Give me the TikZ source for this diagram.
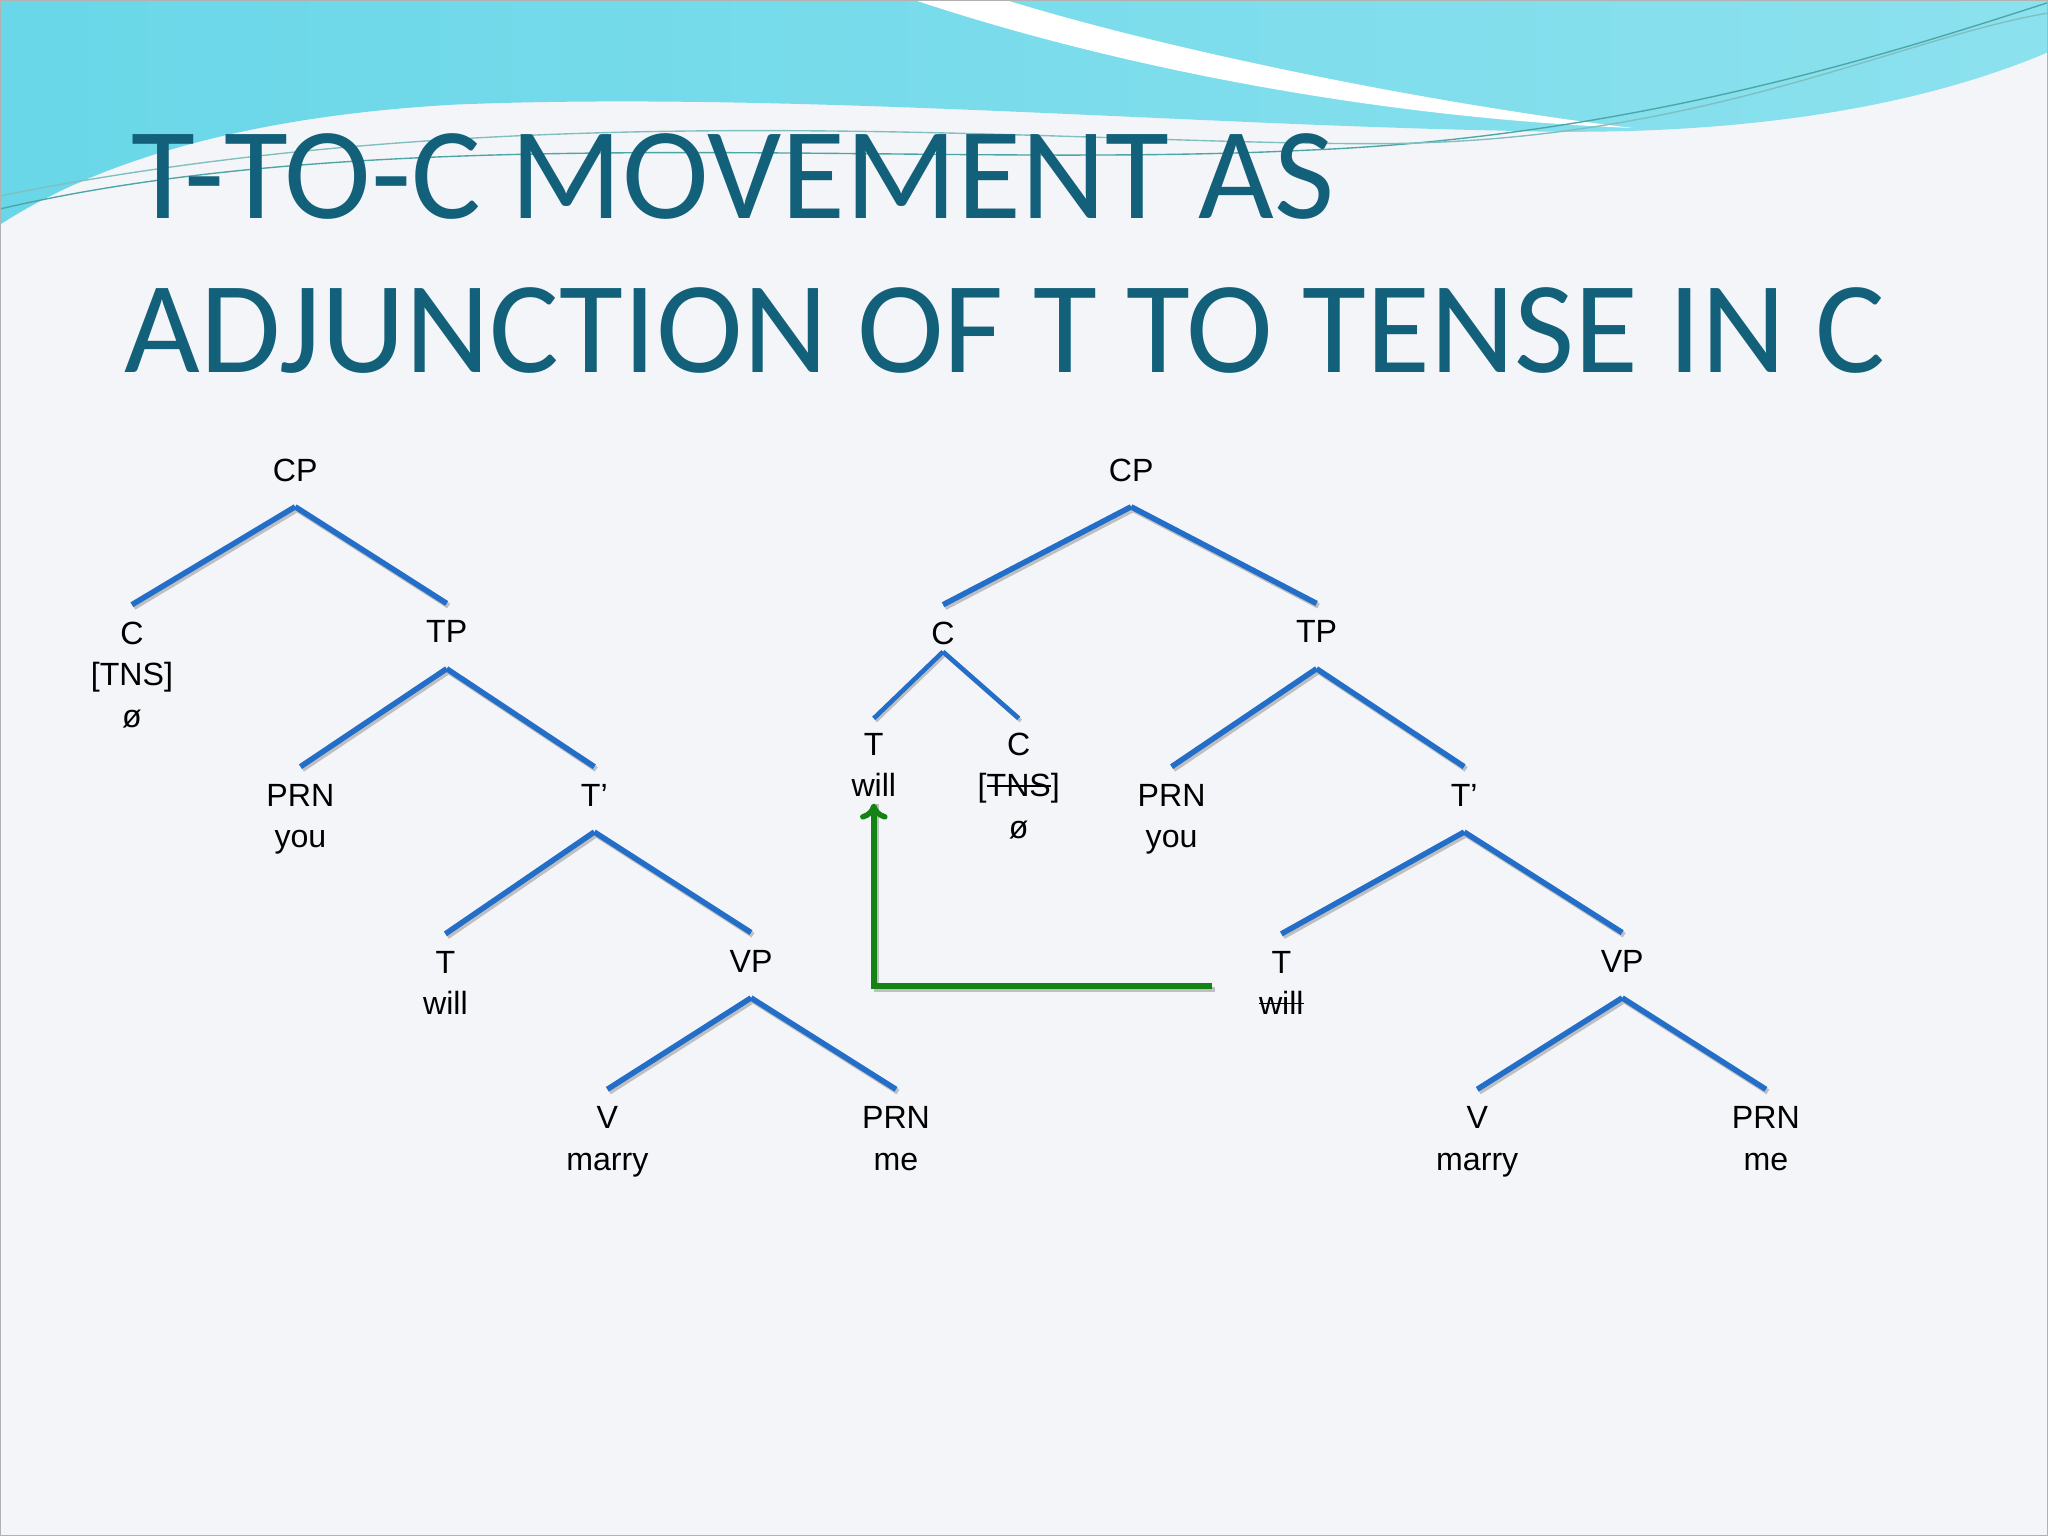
\documentclass[tikz,border=0pt]{standalone}
\usepackage{fontspec}
\setmainfont{Liberation Sans}
\newfontfamily\titlefont{Carlito}
\usetikzlibrary{arrows.meta}
\newsavebox{\strkbox}
\newcommand{\strk}[1]{\sbox{\strkbox}{#1}\rlap{\rule[0.32em]{\wd\strkbox}{0.8pt}}\usebox{\strkbox}}
\definecolor{bg}{RGB}{244,245,248}
\definecolor{titlec}{RGB}{18,96,122}
\definecolor{treeblue}{RGB}{35,110,200}
\definecolor{arrgreen}{RGB}{20,130,20}
\tikzset{
  lab/.style={anchor=north,inner sep=0pt,align=center,font=\fontsize{14}{18}\selectfont},
  br/.style={draw=treeblue,line width=2.4pt},
}
\newcommand{\tedge}[2]{\draw[gray!50,line width=2.4pt] ([xshift=0.03cm,yshift=-0.78cm]#1.north) -- ([xshift=0.03cm,yshift=0.22cm]#2.north);
\draw[br] ([yshift=-0.74cm]#1.north) -- ([yshift=0.26cm]#2.north);}
\begin{document}
\begin{tikzpicture}[x=0.02cm,y=-0.02cm]
\useasboundingbox (0,0) rectangle (1568,1176);
\fill[bg] (0,0) rectangle (1568,1176);
% banner
\shade[left color={rgb,255:red,105;green,215;blue,232},middle color={rgb,255:red,110;green,180;blue,215},right color={rgb,255:red,140;green,225;blue,238}]
 (0,0) -- (1568,0) -- (1568,40) .. controls (1450,90) and (1300,105) .. (1150,100)
 .. controls (900,95) and (600,70) .. (350,80) .. controls (200,88) and (80,120) .. (0,172) -- cycle;
\fill[white] (700,0) .. controls (850,50) and (1050,90) .. (1250,98) .. controls (1100,80) and (900,40) .. (770,0) -- cycle;
\draw[teal!70,line width=0.6pt] (0,160) .. controls (300,90) and (700,130) .. (1000,115) .. controls (1250,105) and (1450,40) .. (1568,2);
\draw[teal!50,line width=0.6pt] (0,150) .. controls (400,70) and (800,110) .. (1050,110) .. controls (1300,110) and (1450,30) .. (1568,10);
\draw[gray!60,line width=0.8pt] (0,0) rectangle (1568,1176);
% title
\node[anchor=base west,inner sep=0pt,text=titlec,font=\titlefont\fontsize{57}{60}\selectfont] (t1) at (100,167) {T-TO-C MOVEMENT AS};
\node[anchor=base west,inner sep=0pt,text=titlec,font=\titlefont\fontsize{57}{60}\selectfont] (t2) at (95,285) {ADJUNCTION OF T TO TENSE IN C};
% left tree
\node[lab] (lcp) at (226,351) {CP};
\node[lab] (lc) at (101,476) {C\\{[}TNS{]}\\ø};
\node[lab] (ltp) at (342,475) {TP};
\node[lab] (lprn) at (230,600) {PRN\\you};
\node[lab] (ltb) at (455,600) {T’};
\node[lab] (lt) at (341,728) {T\\will};
\node[lab] (lvp) at (575,727) {VP};
\node[lab] (lv) at (465,847) {V\\marry};
\node[lab] (lme) at (686,847) {PRN\\me};
\tedge{lcp}{lc}\tedge{lcp}{ltp}\tedge{ltp}{lprn}\tedge{ltp}{ltb}
\tedge{ltb}{lt}\tedge{ltb}{lvp}\tedge{lvp}{lv}\tedge{lvp}{lme}
% right tree
\node[lab] (rcp) at (866,351) {CP};
\node[lab] (rc) at (722,476) {C};
\node[lab] (rtp) at (1008,475) {TP};
\node[lab] (rtw) at (669,561) {T\\will};
\node[lab] (rcc) at (780,561) {C\\{[}\strk{TNS}{]}\\ø};
\node[lab] (rprn) at (897,600) {PRN\\you};
\node[lab] (rtb) at (1121,600) {T’};
\node[lab] (rt) at (981,728) {T\\\strk{will}};
\node[lab] (rvp) at (1242,727) {VP};
\node[lab] (rv) at (1131,847) {V\\marry};
\node[lab] (rme) at (1352,847) {PRN\\me};
\tedge{rcp}{rc}\tedge{rcp}{rtp}\tedge{rtp}{rprn}\tedge{rtp}{rtb}
\tedge{rtb}{rt}\tedge{rtb}{rvp}\tedge{rvp}{rv}\tedge{rvp}{rme}
\draw[gray!50,line width=1.6pt] ([xshift=0.03cm,yshift=-0.5cm]rc.north) -- ([xshift=0.03cm,yshift=0.18cm]rtw.north);
\draw[gray!50,line width=1.6pt] ([xshift=0.03cm,yshift=-0.5cm]rc.north) -- ([xshift=0.03cm,yshift=0.18cm]rcc.north);
\draw[treeblue,line width=2pt] ([yshift=-0.46cm]rc.north) -- ([yshift=0.22cm]rtw.north);
\draw[treeblue,line width=2pt] ([yshift=-0.46cm]rc.north) -- ([yshift=0.22cm]rcc.north);
% movement arrow
\coordinate (mvs) at (928,755);
\draw[gray!50,line width=2.4pt] ([xshift=0.04cm,yshift=-0.05cm]mvs) -| ([xshift=0.04cm,yshift=-0.1cm]rtw.south);
\draw[arrgreen,line width=2.4pt,-{To[length=7pt,width=12pt]}] (mvs) -| ([yshift=-0.1cm]rtw.south);
\end{tikzpicture}
\end{document}
